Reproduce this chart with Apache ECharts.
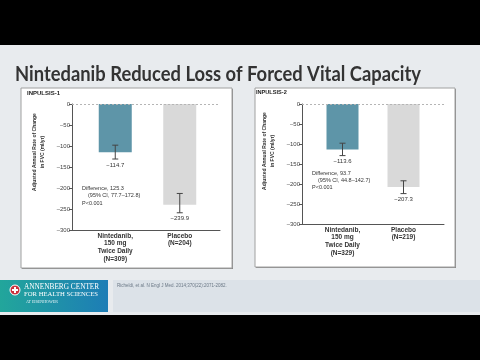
<!DOCTYPE html>
<html><head><meta charset="utf-8">
<script src="https://cdn.jsdelivr.net/npm/echarts@6/dist/echarts.min.js"></script>
<style>html,body{margin:0;padding:0;background:#000;}#c{width:480px;height:360px;}</style>
</head><body><div id="c"></div>
<script>
// ---- data ----
const categories1 = ['Nintedanib,\n150 mg\nTwice Daily\n(N=309)', 'Placebo\n(N=204)'];
const values1 = [-114.7, -239.9];
const errLow1 = [-131, -259];
const errHigh1 = [-98, -213];
const categories2 = ['Nintedanib,\n150 mg\nTwice Daily\n(N=329)', 'Placebo\n(N=219)'];
const values2 = [-113.6, -207.3];
const errLow2 = [-129, -224];
const errHigh2 = [-98, -192];
const yMin = -300, yMax = 0, yInterval = 50;
const panelTitles = ['INPULSIS-1', 'INPULSIS-2'];
const diffText1 = ['Difference, 125.3', '(95% CI, 77.7\u2013172.8)', 'P<0.001'];
const diffText2 = ['Difference, 93.7', '(95% CI, 44.8\u2013142.7)', 'P<0.001'];
const yName = 'Adjusted Annual Rate of Change\nin FVC (ml/yr)';

const barColors = ['#5e95a8', '#d9d9d9'];
const FONT = 'Liberation Sans';
const fmtNum = v => (v < 0 ? '\u2212' + Math.abs(v).toFixed(1) : v.toFixed(1));
const fmtTick = v => (v < 0 ? '\u2013' + Math.abs(v) : String(v));

const chart = echarts.init(document.getElementById('c'), null, {renderer: 'canvas'});

function axisPair(gridOuter, gridInner, cats) {
  const xs = [
    {gridIndex: gridOuter, type: 'category', data: ['a', 'b'],
     axisLine: {show: true, onZero: false, lineStyle: {color: '#555', width: 1}}, axisTick: {show: false}, axisLabel: {show: false}},
    {gridIndex: gridInner, type: 'category', data: cats,
     axisLine: {show: false, onZero: false}, axisTick: {show: false},
     axisLabel: {show: true, interval: 0, margin: 2, fontFamily: FONT, fontSize: 6.5, fontWeight: 'bold', color: '#333', lineHeight: 7.8}}
  ];
  const ys = [
    {gridIndex: gridOuter, type: 'value', min: yMin, max: yMax, interval: yInterval,
     axisLine: {show: true, lineStyle: {color: '#555', width: 1}},
     axisTick: {show: true, length: 3, lineStyle: {color: '#555'}},
     axisLabel: {fontFamily: FONT, fontSize: 6, color: '#444', margin: 2, formatter: fmtTick},
     splitLine: {show: false}},
    {gridIndex: gridInner, type: 'value', min: yMin, max: yMax, interval: yInterval, show: false, splitLine: {show: false}}
  ];
  return {xs, ys};
}
const a1 = axisPair(0, 1, categories1);
const a2 = axisPair(2, 3, categories2);

function errSeries(xi, yi, lows, highs, vals) {
  return {
    type: 'custom', xAxisIndex: xi, yAxisIndex: yi, z: 5,
    data: lows.map((l, i) => [i, l, highs[i], vals[i]]),
    renderItem: function (params, api) {
      const i = api.value(0);
      const lo = api.coord([i, api.value(1)]);
      const hi = api.coord([i, api.value(2)]);
      const w = 3;
      const st = {stroke: '#444', lineWidth: 1};
      return {type: 'group', children: [
        {type: 'line', shape: {x1: lo[0], y1: lo[1], x2: hi[0], y2: hi[1]}, style: st},
        {type: 'line', shape: {x1: lo[0] - w, y1: lo[1], x2: lo[0] + w, y2: lo[1]}, style: st},
        {type: 'line', shape: {x1: hi[0] - w, y1: hi[1], x2: hi[0] + w, y2: hi[1]}, style: st},
        {type: 'text', style: {text: fmtNum(api.value(3)), x: lo[0], y: lo[1] + 3, align: 'center', verticalAlign: 'top',
          fontFamily: FONT, fontSize: 6, fill: '#333'}}
      ]};
    }
  };
}

function barSeries(xi, yi, vals, bw) {
  return {type: 'bar', xAxisIndex: xi, yAxisIndex: yi, barWidth: bw, z: 3,
    data: vals.map((v, i) => ({value: v, itemStyle: {color: barColors[i]}}))};
}
function zeroLine(xi, yi) {
  return {type: 'line', xAxisIndex: xi, yAxisIndex: yi, data: [], silent: true,
    markLine: {silent: true, symbol: 'none', label: {show: false},
      lineStyle: {color: '#b5b5b5', type: [2, 2], width: 1}, data: [{yAxis: 0}]}};
}

function diffGraphic(lines, x, y, dx, lh) {
  return lines.map((t, i) => ({type: 'text', x: x + (i === 1 ? dx : 0), y: y + i * lh, z: 10,
    style: {text: t, fontFamily: FONT, fontSize: 5.5, fill: '#333', verticalAlign: 'middle'}}));
}
function yNameGraphic(x, y) {
  return {type: 'text', x: x, y: y, rotation: Math.PI / 2, z: 10,
    style: {text: yName, fontFamily: FONT, fontSize: 5, fontWeight: 'bold', fill: '#333',
      align: 'center', verticalAlign: 'middle', lineHeight: 8}};
}

const option = {
  animation: false,
  backgroundColor: '#000',
  grid: [
    {left: 72, top: 104, width: 148, height: 126},
    {left: 83, top: 104, width: 129, height: 126},
    {left: 302, top: 104, width: 142, height: 120},
    {left: 312, top: 104, width: 122, height: 120}
  ],
  xAxis: [a1.xs[0], a1.xs[1], a2.xs[0], a2.xs[1]],
  yAxis: [a1.ys[0], a1.ys[1], a2.ys[0], a2.ys[1]],
  series: [
    zeroLine(0, 0),
    barSeries(1, 1, values1, 33),
    errSeries(1, 1, errLow1, errHigh1, values1),
    zeroLine(2, 2),
    barSeries(3, 3, values2, 32),
    errSeries(3, 3, errLow2, errHigh2, values2)
  ],
  graphic: [
    {type: 'rect', z: -10, shape: {x: 0, y: 45, width: 480, height: 270}, style: {fill: '#e8ebee'}},
    {type: 'text', z: -5, x: 15, y: 74, scaleX: 0.875, originX: 0, originY: 0,
     style: {text: 'Nintedanib Reduced Loss of Forced Vital Capacity', fontFamily: 'Lato', fontWeight: 'bold', fontSize: 21, fill: '#333', verticalAlign: 'middle'}},
    {type: 'rect', z: -6, shape: {x: 22, y: 89, width: 211, height: 180}, style: {fill: '#8a8a8a'}},
    {type: 'rect', z: -5, shape: {x: 21, y: 88, width: 211, height: 180}, style: {fill: '#fff', stroke: '#a0a0a0', lineWidth: 1}},
    {type: 'rect', z: -6, shape: {x: 256, y: 89, width: 200, height: 179}, style: {fill: '#8a8a8a'}},
    {type: 'rect', z: -5, shape: {x: 255, y: 88, width: 200, height: 179}, style: {fill: '#fff', stroke: '#a0a0a0', lineWidth: 1}},
    {type: 'text', z: 10, x: 27, y: 93, style: {text: panelTitles[0], fontFamily: FONT, fontSize: 6, fontWeight: 'bold', fill: '#222', verticalAlign: 'middle'}},
    {type: 'text', z: 10, x: 256, y: 92, style: {text: panelTitles[1], fontFamily: FONT, fontSize: 5.6, fontWeight: 'bold', fill: '#222', verticalAlign: 'middle'}},
    yNameGraphic(39, 152),
    yNameGraphic(269, 151),
    ...diffGraphic(diffText1, 82, 188, 6, 7.5),
    ...diffGraphic(diffText2, 312, 173, 6, 7),
    // footer
    {type: 'rect', z: -5, shape: {x: 0, y: 280, width: 108, height: 32},
     style: {fill: new echarts.graphic.LinearGradient(0, 0, 1, 0, [{offset: 0, color: '#22a69b'}, {offset: 1, color: '#1d7db6'}])}},
    {type: 'rect', z: -5, shape: {x: 113, y: 280, width: 367, height: 32}, style: {fill: '#dce2e8'}},
    {type: 'circle', z: -4, shape: {cx: 15, cy: 290, r: 5}, style: {fill: '#c8313c', stroke: '#fff', lineWidth: 1}},
    {type: 'rect', z: -3, shape: {x: 14, y: 287, width: 2, height: 6}, style: {fill: '#fff'}},
    {type: 'rect', z: -3, shape: {x: 12, y: 289, width: 6, height: 2}, style: {fill: '#fff'}},
    {type: 'text', z: -3, x: 24, y: 287, style: {text: 'ANNENBERG CENTER', fontFamily: 'Liberation Serif', fontSize: 7.3, fill: '#fff', verticalAlign: 'middle'}},
    {type: 'text', z: -3, x: 24, y: 294.5, style: {text: 'FOR HEALTH SCIENCES', fontFamily: 'Liberation Serif', fontSize: 6.7, fill: '#fff', verticalAlign: 'middle'}},
    {type: 'text', z: -3, x: 26, y: 301.5, style: {text: 'AT EISENHOWER', fontFamily: 'Liberation Serif', fontSize: 4, fill: '#e8f4f8', verticalAlign: 'middle'}},
    {type: 'text', z: -3, x: 117, y: 286, style: {text: 'Richeldi, et al. N Engl J Med. 2014;370(22):2071-2082.', fontFamily: FONT, fontSize: 4.5, fill: '#6a7785', verticalAlign: 'middle'}}
  ]
};
chart.setOption(option);
</script></body></html>
